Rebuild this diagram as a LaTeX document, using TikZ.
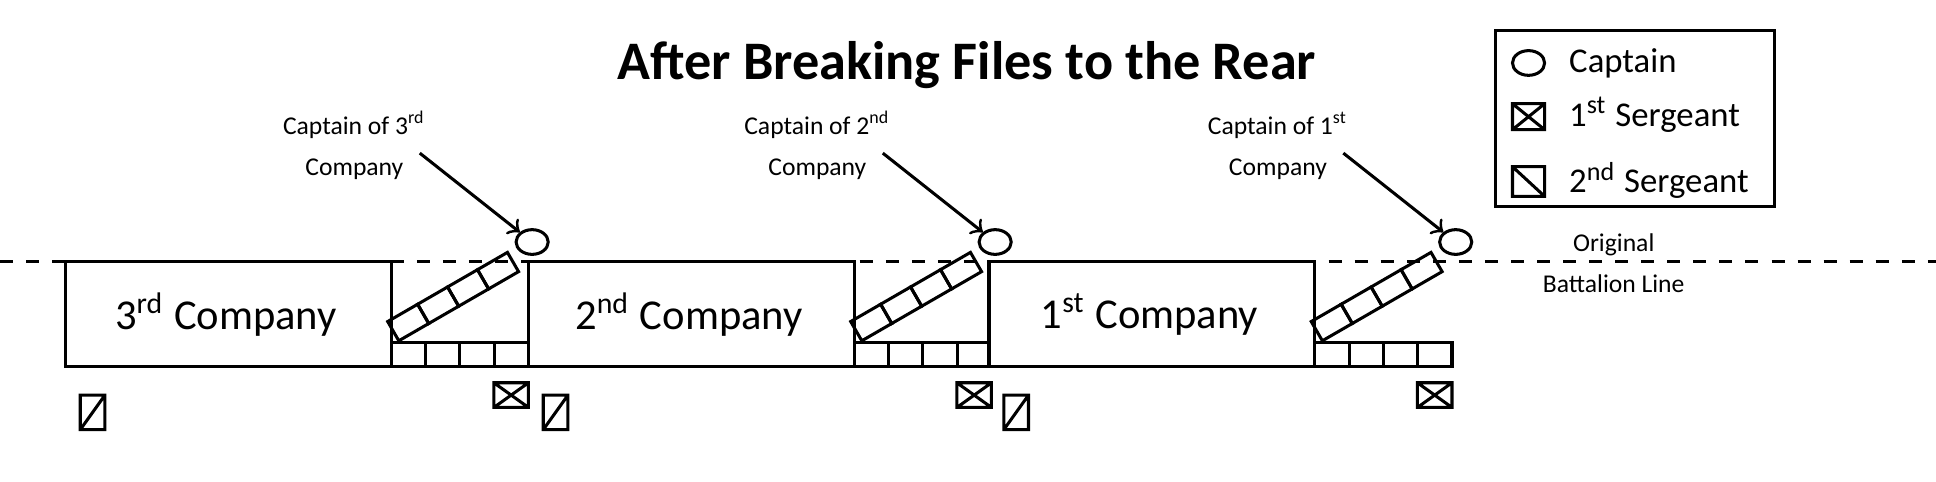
\documentclass[tikz,border=0pt]{standalone}
\usepackage{fontspec}
\setmainfont{Carlito}
\usetikzlibrary{shapes.geometric}

\tikzset{
	capt/.style={draw, ellipse, minimum width=0.26cm, minimum height=0.2cm, inner sep=0pt},
	lbl/.style={align=center, font=\fontsize{5.9}{9.5}\selectfont},
	coname/.style={font=\fontsize{9.8}{12}\selectfont},
	legtxt/.style={anchor=west, font=\fontsize{8}{10}\selectfont},
}

\begin{document}
\begin{tikzpicture}[x=0.01cm, y=-0.01cm, line width=0.7pt]
			\useasboundingbox (0,0) rectangle (1568,390);
			\node[font=\bfseries\fontsize{12.5}{14}\selectfont] (title) at (783,53) {After Breaking Files to the Rear};
			
			% legend
			\draw (1211,25) rectangle (1437,167);
			\node[capt] (lgcapt) at (1238,51) {};
			\node[legtxt] (lgcapttxt) at (1258,51) {Captain};
			\draw (1225,84) rectangle (1251,105) (1225,84) -- (1251,105) (1225,105) -- (1251,84);
			\node[legtxt] (lgfirst) at (1258,93) {1\textsuperscript{st} Sergeant};
			\draw (1225,135) rectangle (1251,159) (1225,135) -- (1251,159);
			\node[legtxt] (lgsecond) at (1258,146) {2\textsuperscript{nd} Sergeant};
			
			\draw[dashed] (0,212) -- (1568,212);		% original battalion line
			\node[lbl] (origline) at (1307,213) {Original\\Battalion Line};
			
			% the three companies
			\foreach \x/\n/\s in {53/3/rd, 428/2/nd, 801/1/st}{
				\draw[fill=white] (\x,212) rectangle (\x+264,297);
				\node[coname] (co\n) at (\x+130,255) {\n\textsuperscript{\s} Company};
				% front rank files
				\foreach \i in {0,...,3}{
					\draw (\x+264+\i*27.75,277) rectangle (\x+264+\i*27.75+27.75,297);
				}
				% files wheeling to the rear
				\begin{scope}[shift={(\x+270,276)}, rotate=30]
					\foreach \i in {0,...,3}{
						\draw (\i*28,0) rectangle (\i*28+28,-18);
					}
				\end{scope}
				\node[capt] (capt\n) at (\x+378,196) {};
				\node[lbl] (captlbl\n) at (\x+234,118) {Captain of \n\textsuperscript{\s}\\Company};
				\draw[->] (\x+287,124) -- (capt\n);
				% sergeants
				\draw (\x+12,320) rectangle (\x+32,348) (\x+12,348) -- (\x+32,320);
				\draw (\x+347,310) rectangle (\x+375,330) (\x+347,310) -- (\x+375,330) (\x+347,330) -- (\x+375,310);
			}
		\end{tikzpicture}
\end{document}
